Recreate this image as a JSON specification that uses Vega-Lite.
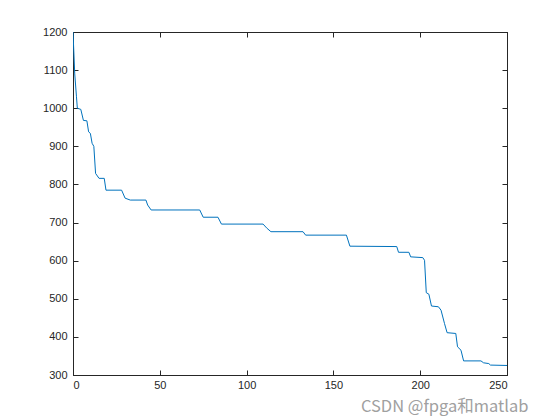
{
  "$schema": "https://vega.github.io/schema/vega-lite/v6.json",
  "autosize": {"type": "none"},
  "width": 434,
  "height": 343,
  "padding": {"left": 73, "top": 32, "right": 53, "bottom": 45},
  "background": "white",
  "config": {
    "view": {"stroke": "#262626", "strokeWidth": 1},
    "font": "Liberation Sans",
    "axis": {
      "grid": false,
      "domainColor": "#262626",
      "tickColor": "#262626",
      "labelColor": "#262626",
      "labelFont": "Liberation Sans",
      "labelFontSize": 11,
      "tickSize": -5,
      "titleFontSize": 11
    }
  },
  "title": {
    "text": "CSDN @fpga和matlab",
    "orient": "bottom",
    "anchor": "end",
    "font": "Noto Sans CJK SC",
    "fontSize": 16.5,
    "fontWeight": "normal",
    "color": "#a0a0a0",
    "offset": 9,
    "dx": 21
  },
  "data": {
    "values": [
      {"x": 0, "y": 1200},
      {"x": 1, "y": 1090},
      {"x": 2, "y": 1030},
      {"x": 2.5, "y": 1000},
      {"x": 4.5, "y": 997},
      {"x": 6, "y": 968},
      {"x": 8, "y": 967},
      {"x": 9, "y": 938},
      {"x": 10, "y": 934},
      {"x": 11, "y": 908},
      {"x": 12, "y": 900},
      {"x": 13, "y": 829},
      {"x": 15, "y": 816},
      {"x": 18, "y": 816},
      {"x": 19, "y": 785},
      {"x": 28, "y": 785},
      {"x": 30, "y": 764},
      {"x": 33, "y": 759},
      {"x": 42, "y": 759},
      {"x": 43, "y": 746},
      {"x": 45, "y": 733},
      {"x": 73, "y": 733},
      {"x": 75, "y": 714},
      {"x": 83.5, "y": 714},
      {"x": 85.5, "y": 696},
      {"x": 109.5, "y": 696},
      {"x": 111.5, "y": 686},
      {"x": 114, "y": 676},
      {"x": 132.5, "y": 676},
      {"x": 134, "y": 667},
      {"x": 157.5, "y": 667},
      {"x": 159.5, "y": 638},
      {"x": 186.5, "y": 637},
      {"x": 187.5, "y": 622},
      {"x": 193.5, "y": 622},
      {"x": 194.5, "y": 610},
      {"x": 201.5, "y": 608},
      {"x": 202.5, "y": 601},
      {"x": 203.5, "y": 516},
      {"x": 205, "y": 512},
      {"x": 206.5, "y": 481},
      {"x": 210.5, "y": 479},
      {"x": 212, "y": 470},
      {"x": 214, "y": 435},
      {"x": 215.5, "y": 411},
      {"x": 220.5, "y": 409},
      {"x": 221.5, "y": 374},
      {"x": 223.5, "y": 365},
      {"x": 225, "y": 337},
      {"x": 235, "y": 337},
      {"x": 236.5, "y": 332},
      {"x": 239.5, "y": 330},
      {"x": 240.5, "y": 326},
      {"x": 250, "y": 325}
    ]
  },
  "layer": [
    {
      "mark": {"type": "line", "color": "#0072BD", "strokeWidth": 1, "clip": true},
      "encoding": {
        "x": {
          "field": "x", "type": "quantitative",
          "scale": {"domain": [0, 250], "nice": false, "zero": false},
          "axis": {"title": null, "values": [0, 50, 100, 150, 200, 250], "format": "d", "labelPadding": 9, "orient": "bottom"}
        },
        "y": {
          "field": "y", "type": "quantitative",
          "scale": {"domain": [300, 1200], "nice": false, "zero": false},
          "axis": {"title": null, "values": [300, 400, 500, 600, 700, 800, 900, 1000, 1100, 1200], "format": "d", "labelPadding": 11, "orient": "left"}
        }
      }
    },
    {
      "mark": {"type": "line", "opacity": 0},
      "encoding": {
        "x": {
          "field": "x", "type": "quantitative",
          "scale": {"domain": [0, 250], "nice": false, "zero": false},
          "axis": {"title": null, "values": [0, 50, 100, 150, 200, 250], "labels": false, "orient": "top"}
        },
        "y": {
          "field": "y", "type": "quantitative",
          "scale": {"domain": [300, 1200], "nice": false, "zero": false},
          "axis": {"title": null, "values": [300, 400, 500, 600, 700, 800, 900, 1000, 1100, 1200], "labels": false, "orient": "right"}
        }
      }
    }
  ],
  "resolve": {"axis": {"x": "independent", "y": "independent"}}
}
